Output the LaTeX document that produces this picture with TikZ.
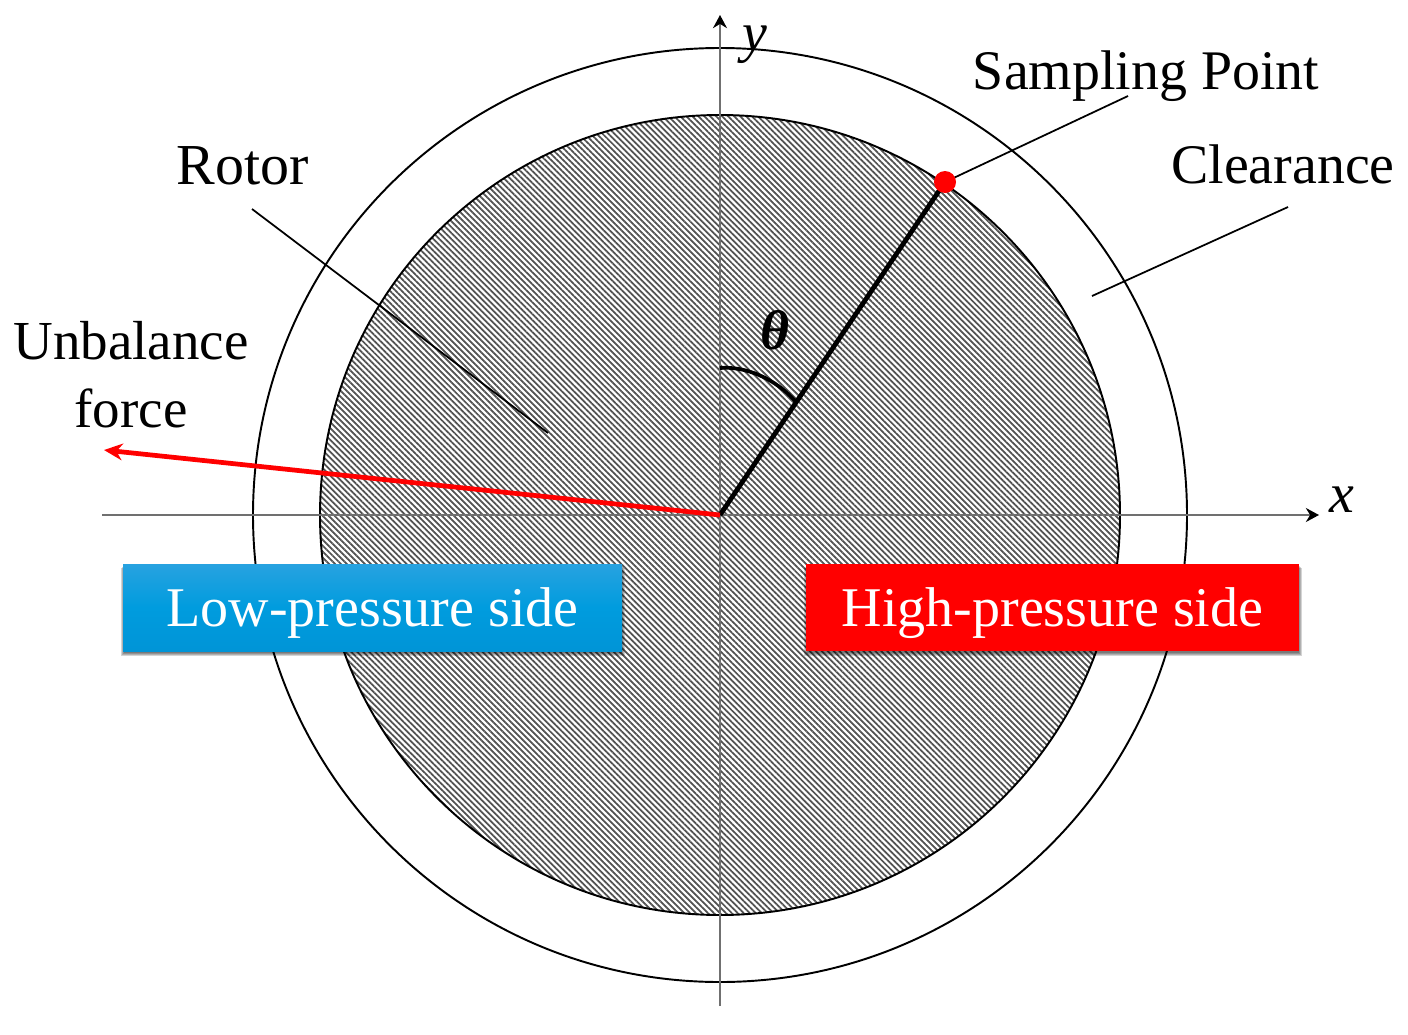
\documentclass[tikz,border=0pt]{standalone}
\usepackage{fontspec}
\setmainfont{Liberation Serif}
\usetikzlibrary{patterns.meta,arrows.meta}
\definecolor{axisgray}{HTML}{707070}
\definecolor{lowtop}{HTML}{4FA8E2}
\definecolor{lowmid}{HTML}{009CDE}
\definecolor{lowbot}{HTML}{008DD0}
\pgfdeclareverticalshading{lowshade}{100bp}{
  color(0bp)=(lowbot); color(50bp)=(lowmid); color(100bp)=(lowtop)}
\tikzset{
  px/.style={x=0.02cm,y=-0.02cm},
  lbl/.style={inner sep=0pt,text=black,font=\fontsize{31.8}{36}\selectfont},
  bandbox/.style={inner sep=0pt,minimum height=87*0.02cm},
  boxtxt/.style={text=white,font=\fontsize{31.9}{36}\selectfont,inner sep=0pt},
  thin line/.style={draw=black,line width=1pt},
  axisline/.style={draw=axisgray,line width=1pt,-{Stealth[length=7.5pt,width=8pt,color=black]}},
  bandshadow/.style={fill=black,opacity=0.17,draw=none},
}
\begin{document}
\begin{tikzpicture}[px]
\useasboundingbox (0,0) rectangle (1408,1034);
\coordinate (O) at (720,515);
% circles
\node[circle,draw=black,line width=1.1pt,minimum size=934*0.02cm,inner sep=0pt] (stator) at (O) {};
\fill[white] (O) circle [radius=400];
\fill[pattern={Lines[angle=-45,distance=2.4pt,line width=1pt]},pattern color=black!68] (O) circle [radius=400];
\node[circle,draw=black,line width=1.1pt,minimum size=800*0.02cm,inner sep=0pt] (rotor) at (O) {};
% axes
\coordinate (xs) at (102,515); \coordinate (xe) at (1319,515);
\coordinate (ys) at (720,1006); \coordinate (ye) at (720,15);
\draw[axisline] (xs) -- (xe);
\draw[axisline] (ys) -- (ye);
% radius and arc
\coordinate (sp) at (945,182);
\coordinate (as) at (720,368); \coordinate (ae) at (796,402);
\draw[black,line width=2.7pt] (O) -- (sp);
\draw[black,line width=2.1pt] (as) .. controls (745,366) and (775,378) .. (ae);
% leaders
\coordinate (rs) at (252,209); \coordinate (re) at (548,433);
\draw[thin line] (rs) -- (re);
\coordinate (cs) at (1288,207); \coordinate (ce) at (1092,296);
\draw[thin line] (cs) -- (ce);
\coordinate (ss) at (1128,96);
\draw[thin line] (ss) -- (sp);
\node[circle,fill=red,minimum size=22*0.02cm,inner sep=0pt] (dot) at (sp) {};
% force
\coordinate (fe) at (104,450);
\draw[red,line width=2.7pt,-{Stealth[length=10.5pt,width=9.5pt]}] (O) -- (fe);
% boxes
\foreach \d in {1,2,3,4}{
  \fill[bandshadow] (123-\d+2,564+\d) rectangle (622+\d-1,651+\d+1);
  \fill[bandshadow] (806-\d+2,564+\d) rectangle (1299+\d-1,651+\d+1);
}
\node[bandbox,minimum width=499*0.02cm,shading=lowshade] (low) at (372.5,607.5) {};
\node[bandbox,minimum width=493*0.02cm,fill=red] (high) at (1052.5,607.5) {};
\node[boxtxt] (lowtxt) at (372.5,613) {Low-pressure side};
\node[boxtxt] (hightxt) at (1052.5,613) {High-pressure side};
% labels
\node[lbl] (lsp) at (1146,76) {Sampling Point};
\node[lbl] (lcl) at (1283,164) {Clearance};
\node[lbl,font=\fontsize{33}{36}\selectfont] (lro) at (243,166) {Rotor};
\node[lbl,align=center,font=\fontsize{31.3}{38.5}\selectfont] (lun) at (131,375) {Unbalance\\force};
\node[lbl,font=\fontsize{31.8}{36}\selectfont\itshape] (ly) at (755,45) {y};
\node[lbl,font=\fontsize{31.8}{36}\selectfont\itshape] (lx) at (1342,500) {x};
\node[lbl,font=\fontsize{31.8}{36}\selectfont\bfseries\itshape] (lth) at (775,330) {θ};
\end{tikzpicture}
\end{document}
